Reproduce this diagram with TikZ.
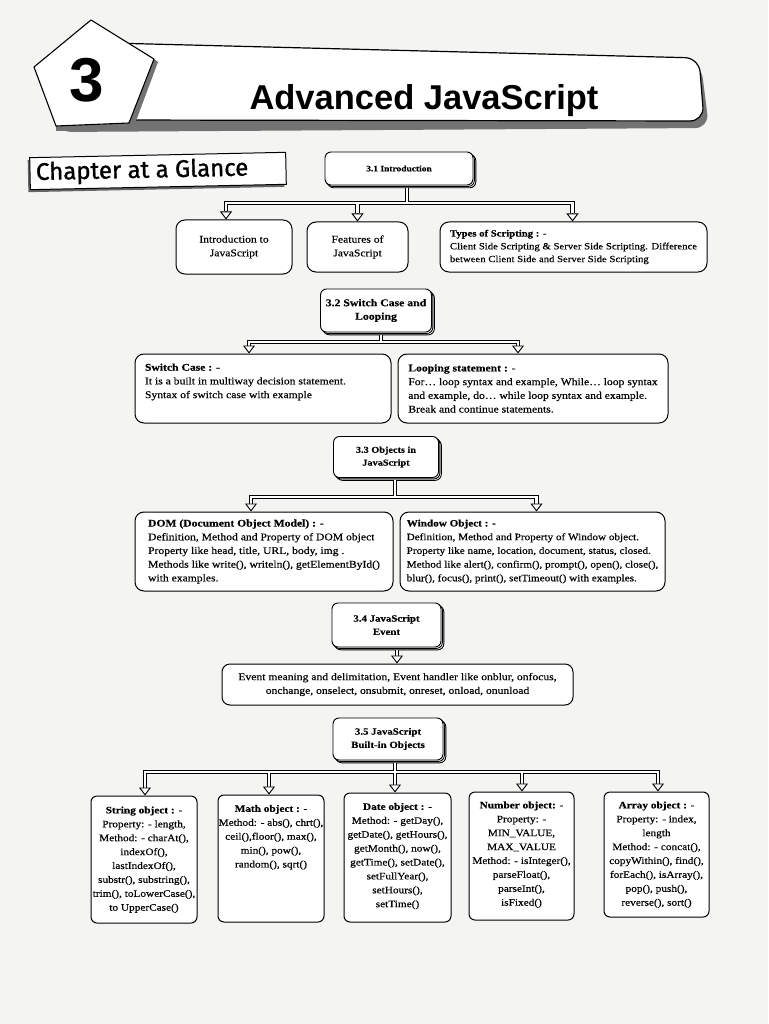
\documentclass[tikz,border=0pt]{standalone}
\usepackage{fontspec}
\setmainfont[FakeStretch=1.14, FakeBold=0.35]{Liberation Serif}
\newfontfamily\titlefont{Liberation Sans}
\newfontfamily\glancefont[FakeBold=1.2]{Fira Sans}
\usetikzlibrary{arrows.meta,shadows}
\definecolor{paper}{RGB}{244,244,242}
\newcommand\tx{\fontsize{10.2}{13.7}\selectfont}
\newcommand\bx[4]{\parbox[c][#1pt][t]{#2pt}{\vspace*{#3pt}#4}}
\tikzset{
  secbox/.style={draw, line width=0.9pt, rounded corners=6pt, fill=white, align=center, inner sep=2pt,
    double copy shadow={shadow xshift=1.4pt, shadow yshift=-1.4pt, draw=black, fill=white, line width=0.9pt}},
  cbox/.style={draw, line width=1pt, rounded corners=9pt, fill=white, inner sep=2pt, font=\tx},
  obox/.style={draw, line width=1pt, rounded corners=6pt, fill=white, inner sep=0pt, font=\fontsize{9.9}{13.9}\selectfont},
  conout/.style={line width=4.4pt, draw=black},
  conin/.style={line width=2.2pt, draw=white},
  contip/.style={line width=0.9pt, -{Triangle[width=12pt,length=8pt,fill=white]}},
  shade/.style={fill=black!55},
}
% parent, parent x offset, bar y, children name/xoffset
\newcommand\ctree[4]{%
  \coordinate (#1-bar) at (0,#3);
  \foreach \c/\d in {#4}{\draw[conout] ([xshift=#2pt,yshift=-2.5pt]#1.south) -- ([xshift=#2pt]#1.south |- #1-bar) -| ([xshift=\d pt,yshift=8pt]\c.north);}
  \foreach \c/\d in {#4}{\draw[conin] ([xshift=#2pt,yshift=-2.5pt]#1.south) -- ([xshift=#2pt]#1.south |- #1-bar) -| ([xshift=\d pt,yshift=8pt]\c.north);}
  \foreach \c/\d in {#4}{\draw[contip] ([xshift=\d pt,yshift=8pt]\c.north) -- ([xshift=\d pt]\c.north);}
}
\begin{document}
\begin{tikzpicture}[x=1pt,y=-1pt]
\useasboundingbox (0,0) rectangle (768,1024);
\fill[paper] (0,0) rectangle (768,1024);

% ---------- header ----------
\fill[shade, rounded corners=14pt] (55,62) -- (701,64) -- (709,128) -- (57,132) -- cycle;
\draw[fill=white, line width=1.2pt, rounded corners=14pt] (110,43) -- (699,58) -- (704,121) -- (110,120) -- cycle;
\fill[shade] (154,59) -- (158,62) -- (133,129) -- (56,131) -- (56,126) -- (129,123) -- cycle;
\draw[fill=white, line width=1.1pt, line join=round] (91,20) -- (154,59) -- (129,123) -- (56,126) -- (34,67) -- cycle;
\node[font=\titlefont\bfseries\fontsize{62}{62}\selectfont] (num) at (87,80) {3};
\node[font=\titlefont\bfseries\fontsize{34.5}{34}\selectfont] (title) at (424,101) {Advanced JavaScript};

\node[draw, line width=1pt, fill=white, rotate=1.2, minimum width=256pt, minimum height=32pt, inner sep=0pt,
      drop shadow={shadow xshift=-2pt, shadow yshift=-2.5pt, fill=black!60, opacity=1},
      font=\glancefont\fontsize{24}{24}\selectfont] (glance) at (158,171) {\makebox[244pt][l]{Chapter at a Glance}};

% ---------- 3.1 ----------
\node[secbox, minimum width=148pt, minimum height=33pt, font=\bfseries\fontsize{8.3}{10}\selectfont] (s31) at (399,168.5) {3.1 Introduction};
\node[cbox, minimum width=116pt, minimum height=54pt, align=center] (b1) at (234,247) {Introduction to\\JavaScript};
\node[cbox, minimum width=101pt, minimum height=50pt, align=center] (b2) at (357.5,247) {Features of\\JavaScript};
\node[cbox, minimum width=267pt, minimum height=50pt, align=left, font=\fontsize{9.4}{12.8}\selectfont] (b3) at (573.5,247)
  {\textbf{Types of Scripting : -}\\Client Side Scripting \& Server Side Scripting. Difference\\between Client Side and Server Side Scripting};

% ---------- 3.2 ----------
\node[secbox, minimum width=111pt, minimum height=43pt, font=\bfseries\fontsize{10.3}{13.5}\selectfont] (s32) at (376,310.5) {3.2 Switch Case and\\Looping};
\node[cbox, minimum width=256pt, minimum height=69pt] (sw) at (263,388.5)
  {\makebox[236pt][l]{\begin{tabular}{@{}l@{}}\textbf{Switch Case : -}\\It is a built in multiway decision statement.\\Syntax of switch case with example\\\mbox{}\end{tabular}}};
\node[cbox, minimum width=270pt, minimum height=69pt, align=left] (lp) at (533,388.5)
  {\textbf{Looping statement : -}\\For… loop syntax and example, While… loop syntax\\and example, do… while loop syntax and example.\\Break and continue statements.};

% ---------- 3.3 ----------
\node[secbox, minimum width=105pt, minimum height=41pt, font=\bfseries\fontsize{9}{12.8}\selectfont] (s33) at (386,457) {3.3 Objects in\\JavaScript};
\node[cbox, minimum width=258pt, minimum height=79pt, align=left] (dom) at (264,551.5)
  {\textbf{DOM (Document Object Model) : -}\\Definition, Method and Property of DOM object\\Property like head, title, URL, body, img .\\Methods like write(), writeln(), getElementById()\\with examples.};
\node[cbox, minimum width=265pt, minimum height=79pt, align=left, font=\fontsize{9.8}{13.7}\selectfont] (win) at (532.5,551.5)
  {\textbf{Window Object : -}\\Definition, Method and Property of Window object.\\Property like name, location, document, status, closed.\\Method like alert(), confirm(), prompt(), open(), close(),\\blur(), focus(), print(), setTimeout() with examples.};

% ---------- 3.4 ----------
\node[secbox, minimum width=109pt, minimum height=44pt, font=\bfseries\fontsize{9.5}{13.3}\selectfont] (s34) at (386.5,625) {3.4 JavaScript\\Event};
\node[cbox, rounded corners=8pt, minimum width=351pt, minimum height=41pt, align=center] (ev) at (397.5,684.5)
  {Event meaning and delimitation, Event handler like onblur, onfocus,\\onchange, onselect, onsubmit, onreset, onload, onunload};

% ---------- 3.5 ----------
\node[secbox, minimum width=110pt, minimum height=42pt, font=\bfseries\fontsize{9.5}{13.3}\selectfont] (s35) at (388,739) {3.5 JavaScript\\Built-in Objects};
\node[obox] (str) at (144,859.5) {\bx{127}{106}{10.5}{\centering\textbf{String object : -}\\Property: - length,\\Method: - charAt(),\\indexOf(),\\lastIndexOf(),\\substr(), substring(),\\trim(), toLowerCase(),\\to UpperCase()}};
\node[obox] (math) at (271,858.5) {\bx{127}{106}{10}{\centering\textbf{Math object : -}\\Method: - abs(), chrt(),\\ceil(),floor(), max(),\\min(), pow(),\\random(), sqrt()}};
\node[obox] (date) at (397.5,857.5) {\bx{129}{107}{10}{\centering\textbf{Date object : -}\\Method: - getDay(),\\getDate(), getHours(),\\getMonth(), now(),\\getTime(), setDate(),\\setFullYear(),\\setHours(),\\setTime()}};
\node[obox] (num) at (521.5,856) {\bx{128}{105}{9.5}{\centering\textbf{Number object: -}\\Property: -\\MIN\_VALUE,\\MAX\_VALUE\\Method: - isInteger(),\\parseFloat(),\\parseInt(),\\isFixed()}};
\node[obox] (arr) at (656.5,854.5) {\bx{125}{105}{9.5}{\centering\textbf{Array object : -}\\Property: - index,\\length\\Method: - concat(),\\copyWithin(), find(),\\forEach(), isArray(),\\pop(), push(),\\reverse(), sort()}};

% ---------- connectors ----------
\ctree{s31}{8}{203}{b1/-8,b2/0,b3/-1}
\ctree{s32}{5}{342}{sw/-14,lp/-15}
\ctree{s33}{9}{497}{dom/-13,win/4}
\ctree{s34}{10.5}{656}{ev/-0.5}
\ctree{s35}{7}{772}{str/1,math/-2,date/-2.5,num/0.5,arr/1.5}
\end{tikzpicture}
\end{document}
